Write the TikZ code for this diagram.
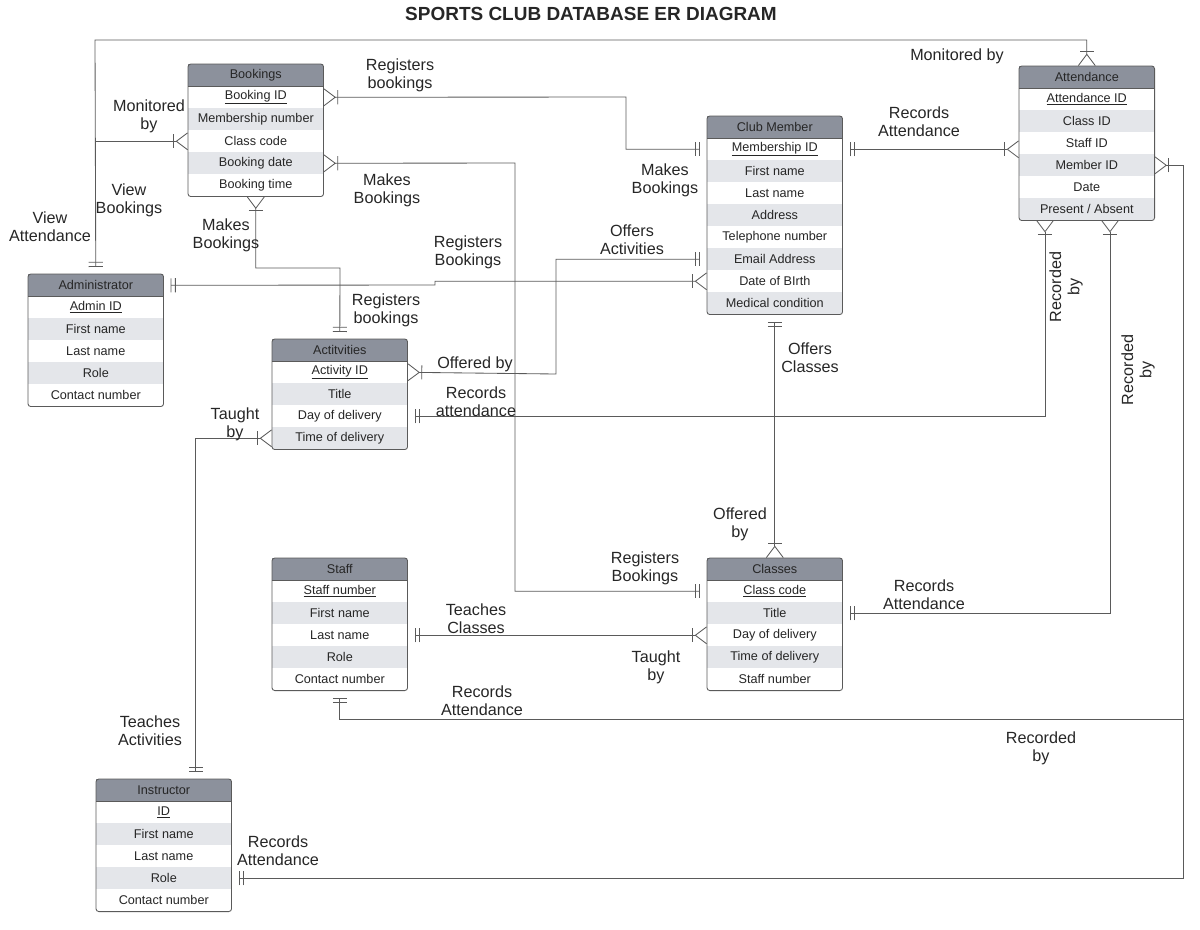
\documentclass[tikz,border=0pt]{standalone}
\usepackage{fontspec}
\setmainfont{Liberation Sans}
\usetikzlibrary{positioning,arrows.meta}
\def\ux{0.025cm}
\definecolor{erhead}{HTML}{8C919C}
\definecolor{errow}{HTML}{E4E6EA}
\definecolor{erline}{HTML}{5A5A5A}
\tikzset{
  erone/.tip={Bar[width=10pt,sep=2.5pt]Bar[width=10pt,sep=5pt]},
  ermany/.tip={Bar[width=10pt,sep=1pt]Straight Barb[reversed,length=8pt,width=12pt]},
  ehead/.style={anchor=north west, fill=erhead, minimum width=135*\ux, minimum height=22*\ux, inner sep=0pt, font=\fontsize{9}{10}\selectfont, text=black!85},
  erowst/.style={anchor=north west, minimum width=135*\ux, minimum height=22*\ux, inner sep=0pt, font=\fontsize{9}{10}\selectfont, text=black!85},
  eframe/.style={draw=erline, rounded corners=2pt, line width=0.6pt},
  rel/.style={draw=erline, line width=0.6pt},
  lbl/.style={align=center, font=\fontsize{11.5}{13}\selectfont, text=black!85}
}
% name, x, y, title, number of rows, rows
\newcommand{\erentity}[6]{%
  \node[ehead] (#1) at (#2,#3) {#4};
  \foreach \r [count=\i] in {#6}{
    \ifodd\i\def\rowfill{white}\else\def\rowfill{errow}\fi
    \node[erowst, fill=\rowfill] (#1-\i) at ({#2},{#3+22*\i}) {\ifnum\i=1 \underline{\r}\else\r\fi};
  }
  \draw[eframe] (#1.north west) rectangle (#1-#5.south east);
  \draw[erline, line width=0.6pt] (#1.south west) -- (#1.south east);
}

\begin{document}
\begin{tikzpicture}[x=0.025cm, y=-0.025cm]
  \useasboundingbox (0,0) rectangle (1200,929);
  \node[font=\bfseries\fontsize{13.5}{15}\selectfont, text=black!85] (title) at (591,14) {SPORTS CLUB DATABASE ER DIAGRAM};

  \erentity{book}{188}{64}{Bookings}{5}{Booking ID,Membership number,Class code,Booking date,Booking time}
  \erentity{cm}{707}{116}{Club Member}{8}{Membership ID,First name,Last name,Address,Telephone number,Email Address,Date of BIrth,Medical condition}
  \erentity{att}{1019}{66}{Attendance}{6}{Attendance ID,Class ID,Staff ID,Member ID,Date,Present / Absent}
  \erentity{admin}{28}{274}{Administrator}{5}{Admin ID,First name,Last name,Role,Contact number}
  \erentity{act}{272}{339}{Actitvities}{4}{Activity ID,Title,Day of delivery,Time of delivery}
  \erentity{staff}{272}{558}{Staff}{5}{Staff number,First name,Last name,Role,Contact number}
  \erentity{cls}{707}{558}{Classes}{5}{Class code,Title,Day of delivery,Time of delivery,Staff number}
  \erentity{inst}{96}{779}{Instructor}{5}{ID,First name,Last name,Role,Contact number}

  \coordinate (join) at (1183,719);

  \draw[rel, erone-ermany] (admin.north) -- (95,40) -| (att.north);
  \draw[rel, -ermany] (95,150) |- (book-3.west);
  \draw[rel, erone-ermany] (cm-1.west) -| (626,97) -- (book-1.east);
  \draw[rel, erone-ermany] (act.north) -- (340,268) -| (book-5.south);
  \draw[rel, erone-ermany] (cls-1.west) -| (515,163) -- (book-4.east);
  \draw[rel, erone-ermany] (admin.east) -- (435,285) |- (cm-7.west);
  \draw[rel, erone-ermany] (cm-1.east) -- (cm-1.east -| att-3.west);
  \draw[rel, erone-ermany] (cm-6.west) -| (556,374) -- (act-1.east);
  \draw[rel, erone-ermany] (act-3.east) -| (1045,220);
  \draw[rel, erone-ermany] (cm-8.south) -- (cls.north);
  \draw[rel, erone-ermany] (staff-3.east) -- (cls-3.west);
  \draw[rel, erone-ermany] (cls-2.east) -| (1110,220);
  \draw[rel, erone-ermany] (staff-5.south) |- (join) |- (att-4.east);
  \draw[rel, erone-] (inst-4.east) -| (join);
  \draw[rel, erone-ermany] ([xshift=32*\ux]inst.north) |- (act-4.west);

  % labels
  \node[lbl] (l1) at (957,56) {Monitored by};
  \node[lbl] (l2) at (50,227) {View\\Attendance};
  \node[lbl] (l3) at (149,116) {Monitored\\by};
  \node[lbl] (l4) at (129,200) {View\\Bookings};
  \node[lbl] (l5) at (400,75) {Registers\\bookings};
  \node[lbl] (l6) at (665,180) {Makes\\Bookings};
  \node[lbl] (l7) at (387,190) {Makes\\Bookings};
  \node[lbl] (l8) at (226,235) {Makes\\Bookings};
  \node[lbl] (l9) at (386,310) {Registers\\bookings};
  \node[lbl] (l10) at (468,252) {Registers\\Bookings};
  \node[lbl] (l11) at (632,240) {Offers\\Activities};
  \node[lbl] (l12) at (919,122) {Records\\Attendance};
  \node[lbl] (l13) at (475,364) {Offered by};
  \node[lbl] (l14) at (476,402) {Records\\attendance};
  \node[lbl] (l15) at (235,424) {Taught\\by};
  \node[lbl] (l16) at (810,358) {Offers\\Classes};
  \node[lbl] (l17) at (740,524) {Offered\\by};
  \node[lbl] (l18) at (645,568) {Registers\\Bookings};
  \node[lbl] (l19) at (476,619) {Teaches\\Classes};
  \node[lbl] (l20) at (656,667) {Taught\\by};
  \node[lbl] (l21) at (924,595) {Records\\Attendance};
  \node[lbl] (l22) at (482,701) {Records\\Attendance};
  \node[lbl] (l23) at (1041,748) {Recorded\\by};
  \node[lbl] (l24) at (150,731) {Teaches\\Activities};
  \node[lbl] (l25) at (278,851) {Records\\Attendance};
  \node[lbl, rotate=90] (l26) at (1066,287) {Recorded\\by};
  \node[lbl, rotate=90] (l27) at (1138,370) {Recorded\\by};
\end{tikzpicture}
\end{document}
